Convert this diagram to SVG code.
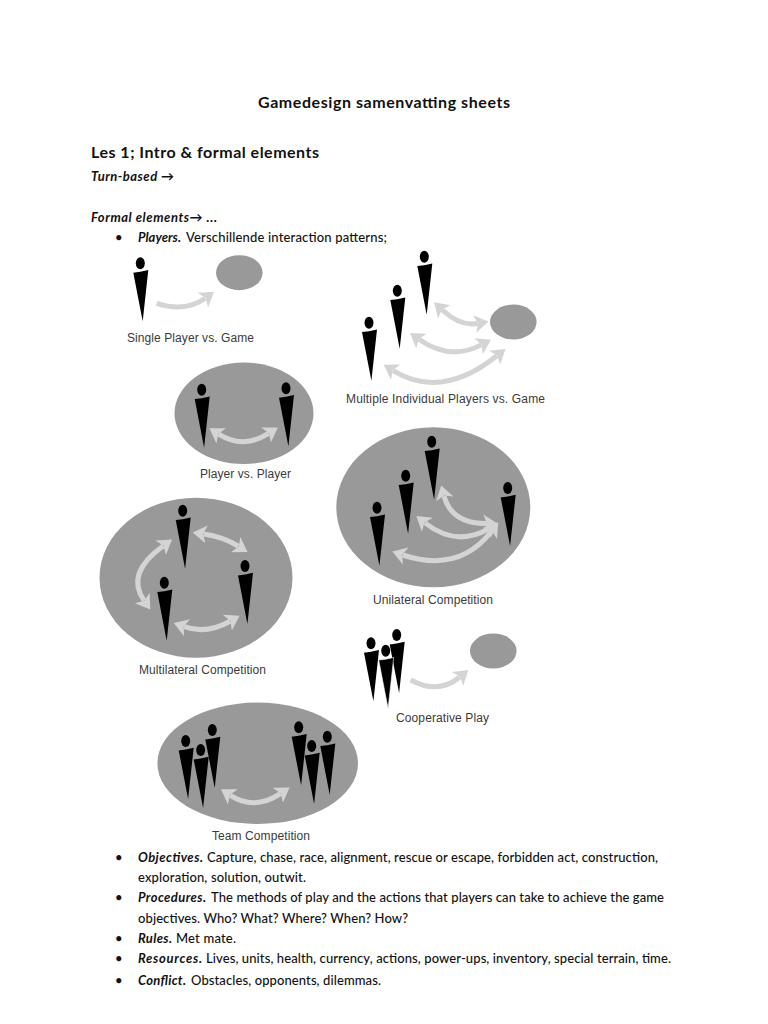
<svg xmlns="http://www.w3.org/2000/svg" width="768" height="1024" viewBox="0 0 768 1024">
<style>
text{font-family:"Lato","Open Sans","Liberation Sans",sans-serif;fill:#111}
.h{font-weight:700;font-size:16px}
.b{font-size:13px;font-weight:500}
.i{font-size:13px;font-style:italic;font-weight:700}
.l{font-family:"Liberation Sans",Arial,sans-serif;font-size:12px;fill:#3a3a3a}
.g{fill:#999}
.a{fill:none;stroke:#d4d4d4;stroke-width:5;marker-end:url(#ah);marker-start:url(#ah)}
.s{marker-start:none}
</style>
<defs>
<marker id="ah" markerUnits="userSpaceOnUse" markerWidth="18" markerHeight="20" refX="3" refY="10" orient="auto-start-reverse"><path d="M0,1L14,10L0,19L3.500,10Z" fill="#d4d4d4"/></marker>
<g id="p"><ellipse cx="0" cy="0" rx="4.500" ry="6"/><path d="M-7,9.400L0,8.500L8,6.700L2.400,58Z"/></g>
<g id="po"><ellipse cx="0" cy="0" rx="4.500" ry="6"/><path d="M-7,9.400L0,8.500L8,6.700L2.400,58Z" stroke="#fff" stroke-width="0.600"/></g>
</defs>
<rect width="768" height="1024" fill="#fff"/>

<g id="page-text">
<text class="h" x="258" y="108" textLength="252">Gamedesign samenvatting sheets</text>
<text class="h" x="91" y="158" textLength="228">Les 1; Intro &amp; formal elements</text>
<text class="i" x="91" y="181" textLength="83">Turn-based →</text>
<text class="i" x="91" y="222" textLength="126">Formal elements→ ...</text>
<text class="b" x="115" y="242">•</text><text class="i" x="138" y="242" textLength="43">Players.</text><text class="b" x="186" y="242" textLength="201">Verschillende interaction patterns;</text>
<text class="b" x="115" y="862">•</text><text class="i" x="138" y="862" textLength="65">Objectives.</text><text class="b" x="207" y="862" textLength="451">Capture, chase, race, alignment, rescue or escape, forbidden act, construction,</text>
<text class="b" x="138" y="882" textLength="168">exploration, solution, outwit.</text>
<text class="b" x="115" y="902">•</text><text class="i" x="138" y="902" textLength="68">Procedures.</text><text class="b" x="211" y="902" textLength="453">The methods of play and the actions that players can take to achieve the game</text>
<text class="b" x="138" y="923" textLength="270">objectives. Who? What? Where? When? How?</text>
<text class="b" x="115" y="943">•</text><text class="i" x="138" y="943" textLength="34">Rules.</text><text class="b" x="176" y="943" textLength="60">Met mate.</text>
<text class="b" x="115" y="963">•</text><text class="i" x="138" y="963" textLength="64">Resources.</text><text class="b" x="206" y="963" textLength="465">Lives, units, health, currency, actions, power-ups, inventory, special terrain, time.</text>
<text class="b" x="115" y="985">•</text><text class="i" x="138" y="985" textLength="48">Conflict.</text><text class="b" x="191" y="985" textLength="190">Obstacles, opponents, dilemmas.</text>
</g>

<g id="single-player">
<use href="#p" x="140.300" y="263.300"/>
<ellipse class="g" cx="239.300" cy="272.700" rx="23.300" ry="17.500"/>
<text class="l" x="127" y="342" textLength="127">Single Player vs. Game</text>
</g>
<g id="multiple-players">
<use href="#p" x="424.300" y="256.700"/><use href="#p" x="397.300" y="290.700"/><use href="#p" x="369" y="322.700"/>
<ellipse class="g" cx="513.300" cy="322" rx="23.300" ry="17.500"/>
<text class="l" x="346" y="403" textLength="199">Multiple Individual Players vs. Game</text>
</g>
<g id="player-vs-player">
<ellipse class="g" cx="244" cy="413.300" rx="69.500" ry="50.700"/>
<use href="#p" x="201.700" y="389.700"/><use href="#p" x="286" y="388.300"/>
<text class="l" x="200" y="478" textLength="91">Player vs. Player</text>
</g>
<g id="unilateral">
<ellipse class="g" cx="433.300" cy="507.300" rx="97" ry="80"/>
<use href="#p" x="431.700" y="441.700"/><use href="#p" x="405.700" y="475.700"/><use href="#p" x="377" y="507.700"/><use href="#p" x="507.700" y="488"/>
<text class="l" x="373" y="604" textLength="120">Unilateral Competition</text>
</g>
<g id="multilateral">
<ellipse class="g" cx="196" cy="577.700" rx="96.500" ry="80"/>
<use href="#p" x="182.700" y="510.700"/><use href="#p" x="245" y="566"/><use href="#p" x="164.300" y="582.700"/>
<text class="l" x="139" y="674" textLength="127">Multilateral Competition</text>
</g>
<g id="cooperative">
<use href="#p" x="396.700" y="635"/><use href="#p" x="371" y="643.300"/><use href="#po" x="385.700" y="650.700"/>
<ellipse class="g" cx="493.300" cy="651" rx="23.300" ry="17.500"/>
<text class="l" x="396" y="722" textLength="93">Cooperative Play</text>
</g>
<g id="team">
<ellipse class="g" cx="257.700" cy="763.300" rx="100.300" ry="60.700"/>
<use href="#p" x="212.300" y="730"/><use href="#p" x="185.700" y="741"/><use href="#p" x="200.700" y="750"/>
<use href="#p" x="298.700" y="727.300"/><use href="#p" x="327.300" y="736.700"/><use href="#p" x="311.700" y="746"/>
<text class="l" x="212" y="840" textLength="98">Team Competition</text>
</g>

<g id="connectors">
<path class="a s" d="M156.700,303.300Q185.600,312.600 205.200,298.300"/>
<path class="a" d="M442.100,309.800Q460,326.700 477.600,323.500"/>
<path class="a" d="M419,339.300Q450,361.300 481.200,344.900"/>
<path class="a" d="M393.100,370.600Q441.600,400.200 496.900,355.800"/>
<path class="a" d="M218.700,434.200Q243,449.600 268.600,433.400"/>
<path class="a" d="M444,496Q451.400,523.600 486.400,523.500"/>
<path class="a" d="M425,522.900Q456.500,547.600 488.800,528.700"/>
<path class="a" d="M402.800,555Q459.400,573.600 491.600,531.100"/>
<path class="a" d="M203.600,534Q222.500,536.500 238.200,546.200"/>
<path class="a" d="M163.100,546Q125,573.400 144,600.400"/>
<path class="a" d="M184.200,626.700Q206.300,634.600 230,621.200"/>
<path class="a s" d="M410.700,680Q438.100,694.900 459.800,677"/>
<path class="a" d="M230.300,795.300Q254.600,810.900 280.400,793.700"/>
</g>
</svg>
